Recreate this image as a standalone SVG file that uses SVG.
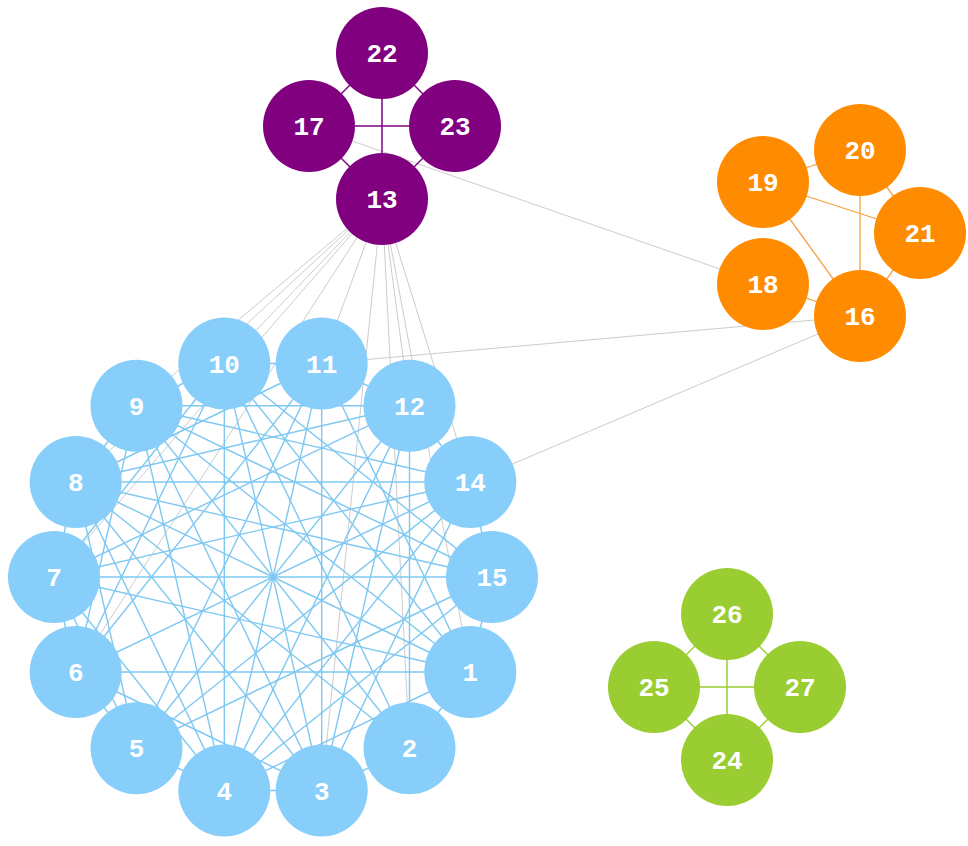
<svg xmlns="http://www.w3.org/2000/svg" width="968" height="846" viewBox="0 0 968 846">
<style>
.n text{font-family:"Liberation Mono","DejaVu Sans Mono",monospace;font-weight:bold;font-size:26px;fill:#fff;text-anchor:middle}
.b circle{fill:#87CEFA}
.p circle{fill:#800080}
.o circle{fill:#FF8C00}
.g circle{fill:#9ACD32}
.eg line{stroke:#cccccc;stroke-width:1}
.eb line{stroke:#7EC8F2;stroke-width:1.4}
.ep line{stroke:#800080;stroke-width:1.5}
.eo line{stroke:#F5A040;stroke-width:1.3}
.egr line{stroke:#9ACD32;stroke-width:1.5}
</style>
<rect width="968" height="846" fill="#ffffff"/>
<g id="edges">
<g class="eg">
<line x1="309" y1="126" x2="763" y2="284"/>
<line x1="860" y1="316" x2="321.7" y2="363.5"/>
<line x1="860" y1="316" x2="470.3" y2="482"/>
<line x1="382" y1="199" x2="224.3" y2="363.5"/>
<line x1="382" y1="199" x2="136.5" y2="405.8"/>
<line x1="382" y1="199" x2="75.7" y2="482"/>
<line x1="382" y1="199" x2="54" y2="577"/>
<line x1="382" y1="199" x2="75.7" y2="672" stroke="#dcc4bc"/>
<line x1="382" y1="199" x2="321.7" y2="363.5"/>
<line x1="382" y1="199" x2="409.5" y2="405.8"/>
<line x1="382" y1="199" x2="470.3" y2="482"/>
<line x1="382" y1="199" x2="470.3" y2="672"/>
<line x1="382" y1="199" x2="409.5" y2="748.2"/>
<line x1="382" y1="199" x2="321.7" y2="790.5"/>
</g>
<g class="eb">
<line x1="136.5" y1="405.8" x2="409.5" y2="405.8"/>
<line x1="75.7" y1="482" x2="470.3" y2="482"/>
<line x1="54" y1="577" x2="492" y2="577"/>
<line x1="75.7" y1="672" x2="470.3" y2="672"/>
<line x1="224.3" y1="363.5" x2="224.3" y2="790.5"/>
<line x1="321.7" y1="363.5" x2="321.7" y2="790.5"/>
<line x1="409.5" y1="405.8" x2="409.5" y2="748.2"/>
<line x1="75.7" y1="482" x2="470.3" y2="672"/>
<line x1="136.5" y1="405.8" x2="409.5" y2="748.2"/>
<line x1="224.3" y1="363.5" x2="321.7" y2="790.5"/>
<line x1="321.7" y1="363.5" x2="224.3" y2="790.5"/>
<line x1="409.5" y1="405.8" x2="136.5" y2="748.2"/>
<line x1="470.3" y1="482" x2="75.7" y2="672"/>
<line x1="224.3" y1="363.5" x2="54" y2="577"/>
<line x1="224.3" y1="363.5" x2="75.7" y2="672"/>
<line x1="224.3" y1="363.5" x2="409.5" y2="748.2"/>
<line x1="224.3" y1="363.5" x2="470.3" y2="672"/>
<line x1="224.3" y1="363.5" x2="492" y2="577"/>
<line x1="321.7" y1="363.5" x2="75.7" y2="482"/>
<line x1="321.7" y1="363.5" x2="75.7" y2="672"/>
<line x1="321.7" y1="363.5" x2="136.5" y2="748.2"/>
<line x1="321.7" y1="363.5" x2="470.3" y2="672"/>
<line x1="409.5" y1="405.8" x2="75.7" y2="482"/>
<line x1="409.5" y1="405.8" x2="54" y2="577"/>
<line x1="409.5" y1="405.8" x2="224.3" y2="790.5"/>
<line x1="409.5" y1="405.8" x2="321.7" y2="790.5"/>
<line x1="470.3" y1="482" x2="136.5" y2="405.8"/>
<line x1="470.3" y1="482" x2="54" y2="577"/>
<line x1="470.3" y1="482" x2="136.5" y2="748.2"/>
<line x1="470.3" y1="482" x2="224.3" y2="790.5"/>
<line x1="470.3" y1="482" x2="321.7" y2="790.5"/>
<line x1="492" y1="577" x2="136.5" y2="405.8"/>
<line x1="492" y1="577" x2="75.7" y2="482"/>
<line x1="492" y1="577" x2="136.5" y2="748.2"/>
<line x1="492" y1="577" x2="224.3" y2="790.5"/>
<line x1="470.3" y1="672" x2="136.5" y2="405.8"/>
<line x1="470.3" y1="672" x2="54" y2="577"/>
<line x1="470.3" y1="672" x2="224.3" y2="790.5"/>
<line x1="409.5" y1="748.2" x2="75.7" y2="482"/>
<line x1="321.7" y1="790.5" x2="136.5" y2="405.8"/>
<line x1="321.7" y1="790.5" x2="75.7" y2="482"/>
<line x1="321.7" y1="790.5" x2="75.7" y2="672"/>
<line x1="224.3" y1="790.5" x2="136.5" y2="405.8"/>
<line x1="224.3" y1="790.5" x2="75.7" y2="482"/>
<line x1="224.3" y1="790.5" x2="54" y2="577"/>
<line x1="136.5" y1="748.2" x2="75.7" y2="482"/>
<line x1="136.5" y1="748.2" x2="54" y2="577"/>
<line x1="75.7" y1="672" x2="136.5" y2="405.8"/>
<line x1="492" y1="577" x2="470.3" y2="482"/>
<line x1="470.3" y1="482" x2="409.5" y2="405.8"/>
<line x1="409.5" y1="405.8" x2="321.7" y2="363.5"/>
<line x1="321.7" y1="363.5" x2="224.3" y2="363.5"/>
<line x1="224.3" y1="363.5" x2="136.5" y2="405.8"/>
<line x1="136.5" y1="405.8" x2="75.7" y2="482"/>
<line x1="75.7" y1="482" x2="54" y2="577"/>
<line x1="54" y1="577" x2="75.7" y2="672"/>
<line x1="75.7" y1="672" x2="136.5" y2="748.2"/>
<line x1="136.5" y1="748.2" x2="224.3" y2="790.5"/>
<line x1="224.3" y1="790.5" x2="321.7" y2="790.5"/>
<line x1="321.7" y1="790.5" x2="409.5" y2="748.2"/>
<line x1="409.5" y1="748.2" x2="470.3" y2="672"/>
<line x1="470.3" y1="672" x2="492" y2="577"/>
</g>
<g class="ep">
<line x1="382" y1="53" x2="309" y2="126"/>
<line x1="382" y1="53" x2="455" y2="126"/>
<line x1="382" y1="53" x2="382" y2="199"/>
<line x1="309" y1="126" x2="455" y2="126"/>
<line x1="309" y1="126" x2="382" y2="199"/>
<line x1="455" y1="126" x2="382" y2="199"/>
</g>
<g class="eo">
<line x1="763" y1="182" x2="860" y2="150"/>
<line x1="860" y1="150" x2="920" y2="233"/>
<line x1="920" y1="233" x2="860" y2="316"/>
<line x1="763" y1="284" x2="860" y2="316"/>
<line x1="763" y1="182" x2="920" y2="233"/>
<line x1="763" y1="182" x2="860" y2="316"/>
<line x1="860" y1="150" x2="860" y2="316"/>
</g>
<g class="egr">
<line x1="727" y1="614" x2="654" y2="687"/>
<line x1="727" y1="614" x2="800" y2="687"/>
<line x1="727" y1="614" x2="727" y2="760"/>
<line x1="654" y1="687" x2="800" y2="687"/>
<line x1="654" y1="687" x2="727" y2="760"/>
<line x1="800" y1="687" x2="727" y2="760"/>
</g>
</g>
<g id="n1" class="n b"><circle cx="470.3" cy="672" r="46"/><text x="470.3" y="681">1</text></g>
<g id="n2" class="n b"><circle cx="409.5" cy="748.2" r="46"/><text x="409.5" y="757">2</text></g>
<g id="n3" class="n b"><circle cx="321.7" cy="790.5" r="46"/><text x="321.7" y="800">3</text></g>
<g id="n4" class="n b"><circle cx="224.3" cy="790.5" r="46"/><text x="224.3" y="800">4</text></g>
<g id="n5" class="n b"><circle cx="136.5" cy="748.2" r="46"/><text x="136.5" y="757">5</text></g>
<g id="n6" class="n b"><circle cx="75.7" cy="672" r="46"/><text x="75.7" y="681">6</text></g>
<g id="n7" class="n b"><circle cx="54" cy="577" r="46"/><text x="54" y="586">7</text></g>
<g id="n8" class="n b"><circle cx="75.7" cy="482" r="46"/><text x="75.7" y="491">8</text></g>
<g id="n9" class="n b"><circle cx="136.5" cy="405.8" r="46"/><text x="136.5" y="415">9</text></g>
<g id="n10" class="n b"><circle cx="224.3" cy="363.5" r="46"/><text x="224.3" y="373">10</text></g>
<g id="n11" class="n b"><circle cx="321.7" cy="363.5" r="46"/><text x="321.7" y="373">11</text></g>
<g id="n12" class="n b"><circle cx="409.5" cy="405.8" r="46"/><text x="409.5" y="415">12</text></g>
<g id="n14" class="n b"><circle cx="470.3" cy="482" r="46"/><text x="470.3" y="491">14</text></g>
<g id="n15" class="n b"><circle cx="492" cy="577" r="46"/><text x="492" y="586">15</text></g>
<g id="n22" class="n p"><circle cx="382" cy="53" r="46"/><text x="382" y="62">22</text></g>
<g id="n17" class="n p"><circle cx="309" cy="126" r="46"/><text x="309" y="135">17</text></g>
<g id="n23" class="n p"><circle cx="455" cy="126" r="46"/><text x="455" y="135">23</text></g>
<g id="n13" class="n p"><circle cx="382" cy="199" r="46"/><text x="382" y="208">13</text></g>
<g id="n20" class="n o"><circle cx="860" cy="150" r="46"/><text x="860" y="159">20</text></g>
<g id="n19" class="n o"><circle cx="763" cy="182" r="46"/><text x="763" y="191">19</text></g>
<g id="n21" class="n o"><circle cx="920" cy="233" r="46"/><text x="920" y="242">21</text></g>
<g id="n18" class="n o"><circle cx="763" cy="284" r="46"/><text x="763" y="293">18</text></g>
<g id="n16" class="n o"><circle cx="860" cy="316" r="46"/><text x="860" y="325">16</text></g>
<g id="n26" class="n g"><circle cx="727" cy="614" r="46"/><text x="727" y="623">26</text></g>
<g id="n25" class="n g"><circle cx="654" cy="687" r="46"/><text x="654" y="696">25</text></g>
<g id="n27" class="n g"><circle cx="800" cy="687" r="46"/><text x="800" y="696">27</text></g>
<g id="n24" class="n g"><circle cx="727" cy="760" r="46"/><text x="727" y="769">24</text></g>
</svg>
